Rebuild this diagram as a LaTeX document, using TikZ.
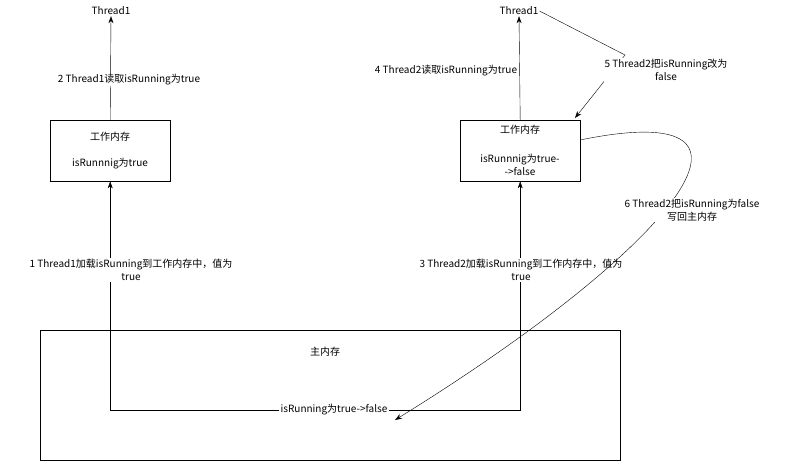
\documentclass[tikz,border=0pt]{standalone}
\usepackage{fontspec}
\setmainfont{Noto Sans CJK SC}
\usetikzlibrary{arrows.meta}
\begin{document}
\begin{tikzpicture}[x=1pt,y=-1pt,
  every node/.style={font=\fontsize{10}{12.5}\selectfont,align=center,inner sep=1pt},
  box/.style={draw,minimum width=120pt,minimum height=61pt,anchor=north west},
  lbl/.style={fill=white},
  arr/.style={-{Stealth[length=7pt,width=5pt]}}]
\useasboundingbox (0,0) rectangle (791,461);
\node (t1) at (111,11) {Thread1};
\node (t2) at (519,11) {Thread1};
\node[box] (w1) at (50,120) {};
\node at (110,137) {工作内存};
\node at (110,164) {isRunnnig为true};
\node[box] (w2) at (460,120) {};
\node at (520,130) {工作内存};
\node at (520,165) {isRunnnig为true-\\->false};
\node[draw,minimum width=580pt,minimum height=130pt,anchor=north west] (m) at (40,330) {};
\node at (325,352) {主内存};
\node (v) at (334,410) {isRunning为true->false};
\draw[arr] (w1.north) -- (t1.south);
\node[lbl] at (129,80) {2 Thread1读取isRunning为true};
\draw[arr] (w2.north) -- (t2.south);
\node[lbl] at (446,71) {4 Thread2读取isRunning为true};
\coordinate (k) at (625,55);
\draw[arr] (t2.east) -- (k) -- (575,118);
\node[lbl] at (666,70) {5 Thread2把isRunning改为\\false};
\draw[arr] (v.west) -| (w1.south);
\draw[arr] (v.east) -| (w2.south);
\node[lbl] at (131,270) {1 Thread1加载isRunning到工作内存中，值为\\true};
\node[lbl] at (521,270) {3 Thread2加载isRunning到工作内存中，值为\\true};
\coordinate (e) at (395,420);
\draw[arr] (580,140) .. controls (800,95) and (670,250) .. (e);
\node[lbl] at (692,210) {6 Thread2把isRunning为false\\写回主内存};
\end{tikzpicture}
\end{document}
